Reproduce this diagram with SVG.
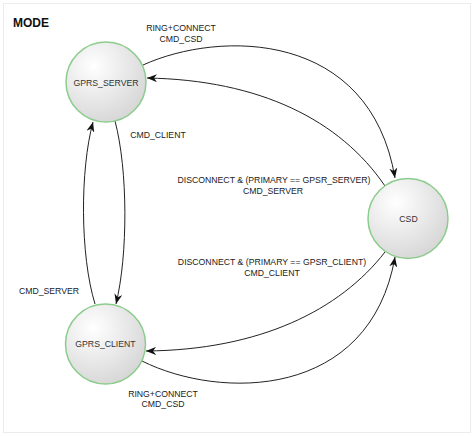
<svg xmlns="http://www.w3.org/2000/svg" width="474" height="436" viewBox="0 0 474 436">
<style>
text{font-family:"Liberation Sans",Arial,sans-serif;font-size:8.7px;fill:#222;text-anchor:middle}
.title{font-size:12px;font-weight:bold;text-anchor:start;fill:#111}
.node circle{fill:url(#g);stroke:#8ccc8c;stroke-width:1.5}
.node text{fill:#333}
.edge{fill:none;stroke:#222;stroke-width:1;marker-end:url(#arr)}
</style>
<defs>
<radialGradient id="g" cx="35%" cy="30%" r="75%">
<stop offset="0" stop-color="#ffffff"/>
<stop offset="1" stop-color="#d6d6d6"/>
</radialGradient>
<marker id="arr" markerUnits="userSpaceOnUse" viewBox="0 0 10 8" refX="10" refY="4" markerWidth="10" markerHeight="8" orient="auto">
<path d="M0,0 L10,4 L0,8 L3,4 z" fill="#111"/>
</marker>
</defs>
<rect x="0" y="0" width="474" height="436" fill="#fff"/>
<rect x="3.5" y="3.5" width="467" height="429" fill="none" stroke="#ececec"/>
<text class="title" x="13" y="27">MODE</text>
<g id="connectors">
<path class="edge" d="M143,65 C220,30 370,30 395,178"/>
<path class="edge" d="M385,186 C340,120 260,80 147,78"/>
<path class="edge" d="M115,121 C128,170 128,255 116,304"/>
<path class="edge" d="M95,304 C80,255 80,170 93,122"/>
<path class="edge" d="M385,252 C340,310 260,350 146,351"/>
<path class="edge" d="M142,361 C220,400 370,400 395,257"/>
</g>
<g id="labels">
<text x="181" y="31">RING+CONNECT</text>
<text x="181" y="42">CMD_CSD</text>
<text x="158" y="138">CMD_CLIENT</text>
<text x="274" y="183">DISCONNECT &amp; (PRIMARY == GPSR_SERVER)</text>
<text x="273" y="194">CMD_SERVER</text>
<text x="272" y="265">DISCONNECT &amp; (PRIMARY == GPSR_CLIENT)</text>
<text x="272" y="276">CMD_CLIENT</text>
<text x="49" y="294">CMD_SERVER</text>
<text x="163" y="397">RING+CONNECT</text>
<text x="163" y="407">CMD_CSD</text>
</g>
<g id="GPRS_SERVER" class="node">
<circle cx="106" cy="82" r="40"/>
<text x="106" y="86">GPRS_SERVER</text>
</g>
<g id="GPRS_CLIENT" class="node">
<circle cx="105.5" cy="344" r="40"/>
<text x="105.5" y="347">GPRS_CLIENT</text>
</g>
<g id="CSD" class="node">
<circle cx="408" cy="218.5" r="40"/>
<text x="408.5" y="222">CSD</text>
</g>
</svg>
